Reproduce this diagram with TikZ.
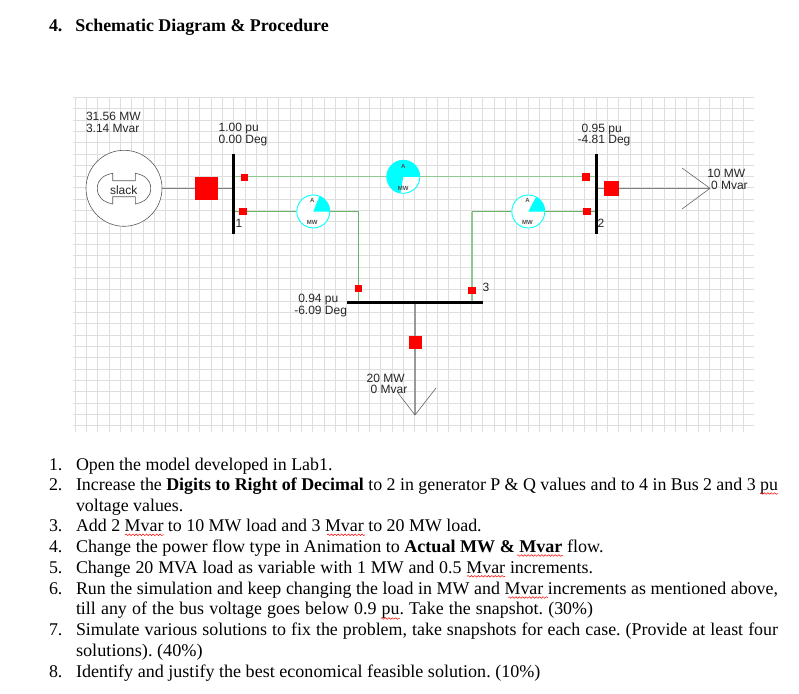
\documentclass[tikz,border=0pt]{standalone}
\usepackage{graphicx}
\usepackage{fontspec}
\setmainfont{Liberation Serif}
\newfontfamily\labfont{Liberation Sans}
\usetikzlibrary{decorations.pathmorphing}
\definecolor{cyan}{RGB}{0,255,255}
\definecolor{lgA}{RGB}{144,200,144}
\definecolor{lgB}{RGB}{105,180,105}
\tikzset{
  gridline/.style={draw=black!13,line width=0.9pt},
  txt/.style={anchor=base west,inner sep=0pt,outer sep=0pt,font=\fontsize{17.9}{20}\selectfont},
  lab/.style={anchor=base west,inner sep=0pt,outer sep=0pt,text=black!85,font=\labfont\fontsize{12}{12}\selectfont},
  tiny/.style={inner sep=0pt,outer sep=0pt,text=black!70,font=\labfont\bfseries\fontsize{6}{6}\selectfont},
  busbar/.style={fill=black,inner sep=0pt,outer sep=0pt},
  brk/.style={fill=red,inner sep=0pt,outer sep=0pt,minimum size=#1},
  meter/.style={circle,draw=cyan,line width=0.9pt,fill=white,inner sep=0pt,minimum size=33pt},
  lineA/.style={draw=lgA,line width=1.1pt},
  lineB/.style={draw=lgB,line width=0.8pt},
  leadline/.style={draw=black!50,line width=0.9pt},
  loadline/.style={draw=black!40,line width=1.2pt},
  thinline/.style={draw=black!60,line width=0.6pt},
  squig/.style={draw=red,line width=0.5pt,decorate,decoration={snake,segment length=3.4pt,amplitude=0.8pt}}
}
\newcommand{\listline}[3]{\node[txt] (n#1) at (49,#2) {#1.}; \node[txt] (t#1) at (76,#2) {\frenchspacing #3};}
\begin{document}
\begin{tikzpicture}[x=1pt,y=-1pt]
\useasboundingbox (0,0) rectangle (799,693);
\fill[white] (0,0) rectangle (799,693);
% grid
\foreach \i in {0,...,59} \draw[gridline] ({75+\i*11.33},97) -- ({75+\i*11.33},432);
\foreach \j in {0,...,29} \draw[gridline] (73,{97.3+\j*11.33}) -- (754,{97.3+\j*11.33});
% title
\node[txt,font=\bfseries\fontsize{17.9}{20}\selectfont] (title) at (49,31) {4.\hspace{13pt}Schematic Diagram \& Procedure};
% main elements
\node[circle,draw=black!65,line width=0.6pt,fill=white,inner sep=0pt,minimum size=76pt] (gen) at (124,188.3) {};
\draw[black!65,line width=0.6pt,fill=white] (112.7,180.7) -- (112.7,173.3) .. controls (103,175) and (97.3,180) .. (97.3,188.3) .. controls (97.3,197) and (103,202) .. (112.7,204) -- (112.7,196.7) -- (135.3,196.7) -- (135.3,204) .. controls (145,202) and (150.7,197) .. (150.7,188.3) .. controls (150.7,180) and (145,175) .. (135.3,173.3) -- (135.3,180.7) -- cycle;
\node[busbar,minimum width=3pt,minimum height=80pt] (bus1) at (233.3,194) {};
\node[busbar,minimum width=3pt,minimum height=80pt] (bus2) at (596.7,194) {};
\node[busbar,minimum width=136pt,minimum height=3pt] (bus3) at (415,302) {};
\node[meter] (m1) at (403.3,176.8) {};
\node[meter] (m2) at (313.3,211.5) {};
\node[meter] (m3) at (528.3,211.5) {};
\coordinate (tip1) at (710,188.3);
\coordinate (tip1a) at (682,168);
\coordinate (tip1b) at (682,209);
\coordinate (tip2) at (415,415);
\coordinate (tip2a) at (398,393);
\coordinate (tip2b) at (436,388);
\coordinate (c2) at (358.3,211.5);
\coordinate (c3) at (472,211.5);
% connectors
\draw[lineA] (bus1.east |- m1) -- (m1.west);
\draw[lineA] (m1.east) -- (bus2.west |- m1);
\draw[lineB] (bus1.east |- m2) -- (m2.west);
\draw[lineB] (m2.east) -- (c2) -- (c2 |- bus3.north);
\draw[lineB] (bus2.west |- m3) -- (m3.east);
\draw[lineB] (m3.west) -- (c3);
\draw[lineA] (c3) -- (c3 |- bus3.north);
\draw[leadline] (gen.east) -- (bus1.west |- gen);
\draw[leadline] (bus2.east |- tip1) -- (tip1);
\draw[loadline] (bus3.south -| tip2) -- (tip2);
\draw[thinline] (tip1a) -- (tip1) -- (tip1b);
\draw[thinline] (tip2a) -- (tip2) -- (tip2b);
% breakers
\node[brk=23pt] (b1) at (206.5,188.3) {};
\node[brk=15pt] (b2) at (611,188.3) {};
\node[brk=13pt] (b3) at (415,342) {};
\node[brk=7pt] (s1) at (244,177) {};
\node[brk=7.5pt] (s2) at (243,211.5) {};
\node[brk=7.5pt] (s3) at (586,177) {};
\node[brk=7.5pt] (s4) at (587,211.5) {};
\node[brk=7.5pt] (s5) at (358.3,288.5) {};
\node[brk=7.5pt] (s6) at (472,290.5) {};
% meter pies
\fill[cyan] (m1.center) -- ++(16.5,0) arc[start angle=0,end angle=260,radius=16.5pt] -- cycle;
\fill[cyan] (m2.center) -- ++(16.5,0) arc[start angle=0,end angle=68,radius=16.5pt] -- cycle;
\fill[cyan] (m3.center) -- ++(16.5,0) arc[start angle=0,end angle=62,radius=16.5pt] -- cycle;
\node[tiny] (m1a) at (403.3,166.5) {A};
\node[tiny] (m1b) at (403.3,188) {MW};
\node[tiny] (m2a) at (312.3,200.5) {A};
\node[tiny] (m2b) at (312.3,222.5) {MW};
\node[tiny] (m3a) at (527.5,200.5) {A};
\node[tiny] (m3b) at (527.5,222.5) {MW};
% labels
\node[lab] (l1) at (86,120.7) {31.56 MW};
\node[lab] (l2) at (86,132) {3.14 Mvar};
\node[lab] (l3) at (218.7,131.7) {1.00 pu};
\node[lab] (l4) at (218.7,143) {0.00 Deg};
\node[lab] (l5) at (581.7,132) {0.95 pu};
\node[lab] (l6) at (577.7,143) {-4.81 Deg};
\node[lab] (l7) at (707.3,177.7) {10 MW};
\node[lab] (l8) at (711,189) {0 Mvar};
\node[lab] (l9) at (597.7,227) {2};
\node[lab] (l10) at (235.7,227) {1};
\node[lab] (l11) at (298.3,302.3) {0.94 pu};
\node[lab] (l12) at (294.3,314.3) {-6.09 Deg};
\node[lab] (l13) at (366.7,382.3) {20 MW};
\node[lab] (l14) at (370.7,393.3) {0 Mvar};
\node[lab] (l15) at (482.7,291.7) {3};
\node[lab] (l16) at (110,194) {slack};
% list
\listline{1}{470}{Open the model developed in Lab1.}
\listline{2}{490.6}{\makebox[702pt][s]{Increase the \textbf{Digits to Right of Decimal} to 2 in generator P \& Q values and to 4 in Bus 2 and 3 pu}}
\node[txt] (t2b) at (76,511.2) {voltage values.};
\listline{3}{531.8}{Add 2 Mvar to 10 MW load and 3 Mvar to 20 MW load.}
\listline{4}{552.6}{\scalebox{1.01}[1]{Change the power flow type in Animation to \textbf{Actual MW \& Mvar} flow.}}
\listline{5}{573.3}{\makebox[517pt][s]{Change 20 MVA load as variable with 1 MW and 0.5 Mvar increments.}}
\listline{6}{594}{\makebox[702pt][s]{Run the simulation and keep changing the load in MW and Mvar increments as mentioned above,}}
\node[txt] (t6b) at (76,614.7) {\frenchspacing\makebox[517pt][s]{till any of the bus voltage goes below 0.9 pu. Take the snapshot. (30\%)}};
\listline{7}{635.4}{\makebox[702pt][s]{Simulate various solutions to fix the problem, take snapshots for each case. (Provide at least four}}
\node[txt] (t7b) at (76,656.1) {\frenchspacing\scalebox{1.02}[1]{solutions). (40\%)}};
\listline{8}{677}{\scalebox{1.01}[1]{Identify and justify the best economical feasible solution. (10\%)}}
% spell-check squiggles
\draw[squig] (760,493.5) -- (778,493.5);
\draw[squig] (125,534.8) -- (164,534.8);
\draw[squig] (327,534.8) -- (365,534.8);
\draw[squig] (517,555.5) -- (563,555.5);
\draw[squig] (467,576.3) -- (505,576.3);
\draw[squig] (508,597.5) -- (548,597.5);
\draw[squig] (381,618.5) -- (400,618.5);
\end{tikzpicture}
\end{document}
